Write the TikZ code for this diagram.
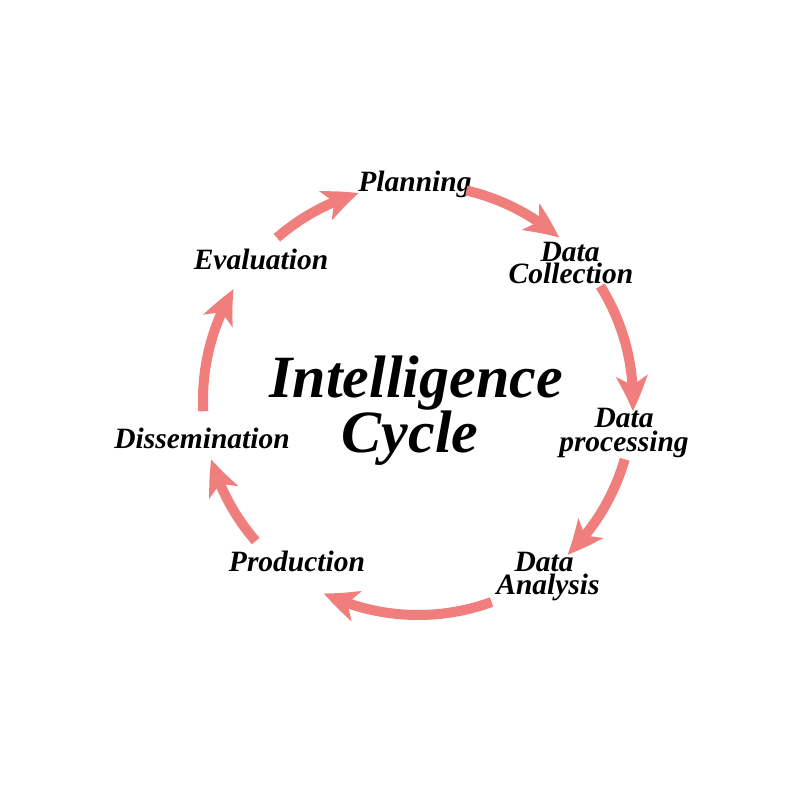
\documentclass[tikz,border=0pt]{standalone}
\usepackage{fontspec}
\setmainfont{Liberation Serif}
\usetikzlibrary{arrows.meta,bending}
\definecolor{coral}{RGB}{240,126,124}
\begin{document}
\begin{tikzpicture}[x=1pt,y=1pt,
  lbl/.style={font=\fontsize{29.5}{29.5}\selectfont\bfseries\itshape, inner sep=0pt, anchor=base},
  big/.style={font=\fontsize{60}{60}\selectfont\bfseries\itshape, inner sep=0pt, anchor=base},
  cyc/.style={draw=coral, line width=10pt, -{Stealth[length=35pt,width=31pt,inset=9pt,bend]}}]
\useasboundingbox[fill=white] (0,0) rectangle (800,800);
\coordinate (c) at (418,400);
% labels
\node[lbl] (plan) at (415,608) {Planning};
\node[lbl] (dc1) at (570,538) {Data};
\node[lbl] (dc2) at (571,516) {Collection};
\node[lbl] (dp1) at (624,372) {Data};
\node[lbl] (dp2) at (624,348) {processing};
\node[lbl] (da1) at (544,228) {Data};
\node[lbl] (da2) at (548,205) {Analysis};
\node[lbl] (prod) at (297,228) {Production};
\node[lbl] (diss) at (202,351) {Dissemination};
\node[lbl] (eval) at (261,530) {Evaluation};
\node[big] (t1) at (416,402) {Intelligence};
\node[big] (t2) at (410,347) {Cycle};
% arrows
\draw[cyc] ([shift={(131:215pt)}]c) arc[start angle=131, end angle=106, radius=215pt];
\draw[cyc] ([shift={(77:215pt)}]c) arc[start angle=77, end angle=49, radius=215pt];
\draw[cyc] ([shift={(32:215pt)}]c) arc[start angle=32, end angle=-3, radius=215pt];
\draw[cyc] ([shift={(-16:215pt)}]c) arc[start angle=-16, end angle=-46, radius=215pt];
\draw[cyc] ([shift={(-70:215pt)}]c) arc[start angle=-70, end angle=-116, radius=215pt];
\draw[cyc] ([shift={(221:215pt)}]c) arc[start angle=221, end angle=196, radius=215pt];
\draw[cyc] ([shift={(183:215pt)}]c) arc[start angle=183, end angle=149, radius=215pt];
\end{tikzpicture}
\end{document}
